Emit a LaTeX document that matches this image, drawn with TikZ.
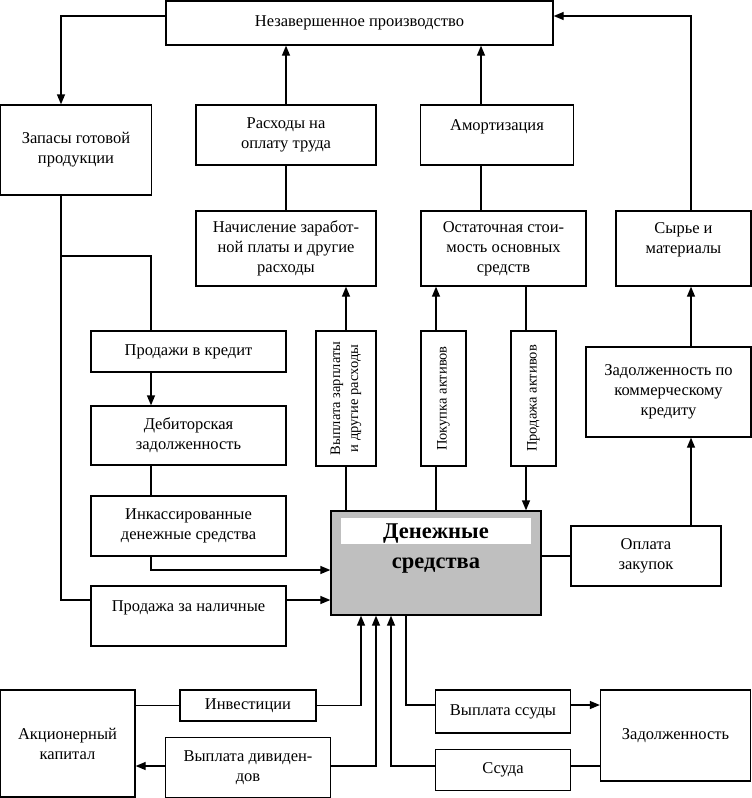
\documentclass[tikz,border=0pt]{standalone}
\usepackage{fontspec}
\setmainfont{Liberation Serif}
\usetikzlibrary{arrows.meta, positioning}

\begin{document}
\begin{tikzpicture}[x=1pt,y=-1pt]
\tikzstyle{box} = [rectangle, draw=black, line width=1.3pt, align=center, inner sep=2pt, font=\fontsize{16.5}{20}\selectfont]
\tikzstyle{vbox} = [box, rotate=90, font=\fontsize{14.5}{18}\selectfont]
\tikzstyle{line} = [line width=1.3pt]
\tikzstyle{arrow} = [line, -{Triangle[length=10pt,width=8pt]}]

\useasboundingbox (0,0) rectangle (752,798);

% top row
\node (wip) [box, minimum width=387pt, minimum height=44pt] at (359.5,23) {Незавершенное производство};
\node (stock) [box, minimum width=151pt, minimum height=90pt] at (76,150) {Запасы готовой\\продукции};
\node (labour) [box, minimum width=180pt, minimum height=60pt] at (286,135) {Расходы на\\оплату труда};
\node (amort) [box, minimum width=153pt, minimum height=60pt] at (497,135) {Амортизация\\ \mbox{}};
\node (payroll) [box, minimum width=180pt, minimum height=75pt] at (286,248.5) {Начисление заработ-\\ной платы и другие\\расходы};
\node (resid) [box, minimum width=165pt, minimum height=75pt] at (503.5,248.5) {Остаточная стои-\\мость основных\\средств};
\node (raw) [box, minimum width=135pt, minimum height=75pt] at (683.5,248.5) {Сырье и\\материалы\\ \mbox{}};

% middle
\node (credit) [box, minimum width=195pt, minimum height=41pt] at (188.5,351.5) {Продажи в кредит};
\node (receiv) [box, minimum width=195pt, minimum height=59pt] at (188.5,435.5) {Дебиторская\\задолженность};
\node (collect) [box, minimum width=195pt, minimum height=60pt] at (188.5,526) {Инкассированные\\денежные средства};
\node (cashsale) [box, minimum width=195pt, minimum height=60pt] at (188.5,616) {Продажа за наличные\\ \mbox{}};
\node (wages) [vbox, minimum width=135pt, minimum height=60pt] at (346,398.5) {Выплата зарплаты\\и другие расходы};
\node (buy) [vbox, minimum width=135pt, minimum height=45pt] at (443.5,398.5) {Покупка активов};
\node (sell) [vbox, minimum width=135pt, minimum height=45pt] at (533.5,398.5) {Продажа активов};
\node (tcredit) [box, minimum width=165pt, minimum height=90pt] at (668.5,392) {Задолженность по\\коммерческому\\кредиту};
\node (purch) [box, minimum width=150pt, minimum height=60pt] at (646,556) {Оплата\\закупок};
\node (cash) [box, fill=black!25, minimum width=210pt, minimum height=104pt, font=\bfseries\fontsize{22.5}{30}\selectfont] at (436,563)
  {\setlength\fboxsep{0pt}\colorbox{white}{\makebox[190pt]{\rule[-5pt]{0pt}{26pt}Денежные}}\\средства\\[10pt] \mbox{}};

% bottom
\node (equity) [box, minimum width=135pt, minimum height=107pt] at (67.5,743.5) {Акционерный\\капитал};
\node (invest) [box, minimum width=136pt, minimum height=31pt] at (248,705.5) {Инвестиции};
\node (divid) [box, minimum width=165pt, minimum height=60pt] at (248,767.5) {Выплата дивиден-\\дов};
\node (repay) [box, minimum width=135pt, minimum height=43pt] at (503,711.5) {Выплата ссуды};
\node (loan) [box, minimum width=135pt, minimum height=41pt] at (503,770) {Ссуда};
\node (debt) [box, minimum width=150pt, minimum height=91pt] at (675.5,735.5) {Задолженность};
\coordinate (split) at (61,256);

\draw [arrow] (wip.west |- 0,16) -| (stock.north -| 61,0);
\draw [arrow] (raw.north -| 691,0) |- (wip.east |- 0,16);
\draw [arrow] (labour.north) -- (labour.north |- wip.south);
\draw [arrow] (amort.north -| 481,0) -- (wip.south -| 481,0);
\draw [line] (payroll.north) -- (labour.south);
\draw [line] (resid.north -| 481,0) -- (amort.south -| 481,0);

\draw [line] (cash.north -| wages) -- (wages.west);
\draw [arrow] (wages.east) -- (payroll.south -| wages);
\draw [line] (cash.north -| 436,0) -- (buy.west -| 436,0);
\draw [arrow] (buy.east -| 436,0) -- (resid.south -| 436,0);
\draw [line] (resid.south -| 526,0) -- (sell.east -| 526,0);
\draw [arrow] (sell.west -| 526,0) -- (cash.north -| 526,0);
\draw [line] (cash.east |- purch.west) -- (purch.west);
\draw [arrow] (purch.north -| 691,0) -- (tcredit.south -| 691,0);
\draw [arrow] (tcredit.north -| 691,0) -- (raw.south -| 691,0);

\draw [line] (stock.south -| 61,0) |- (cashsale.west |- 0,600);
\draw [line] (split) -| (credit.north -| 151,0);
\draw [arrow] (credit.south -| 151,0) -- (receiv.north -| 151,0);
\draw [line] (receiv.south -| 151,0) -- (collect.north -| 151,0);
\draw [arrow] (collect.south -| 151,0) |- (cash.west |- 0,570);
\draw [arrow] (cashsale.east |- 0,600) -- (cash.west |- 0,600);

\draw [line] (equity.east |- invest.west) -- (invest.west);
\draw [arrow] (invest.east) -| (cash.south -| 361,0);
\draw [arrow] (divid.east |- 0,766) -| (cash.south -| 376,0);
\draw [arrow] (divid.west |- 0,766) -- (equity.east |- 0,766);
\draw [arrow] (loan.west |- 0,766) -| (cash.south -| 391,0);
\draw [line] (cash.south -| 406,0) |- (repay.west |- 0,705);
\draw [arrow] (repay.east |- 0,705) -- (debt.west |- 0,705);
\draw [line] (debt.west |- 0,766) -- (loan.east |- 0,766);
\end{tikzpicture}
\end{document}
